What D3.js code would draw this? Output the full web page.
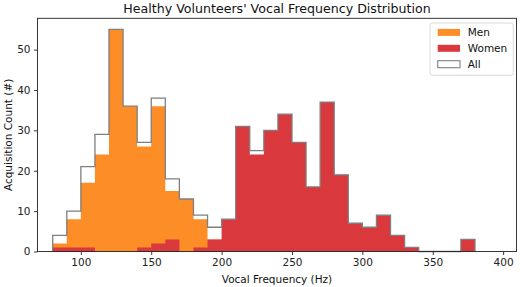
<!DOCTYPE html>
<html>
<head>
<meta charset="utf-8">
<script src="https://cdn.jsdelivr.net/npm/d3@7"></script>
<style>
  html, body { margin: 0; padding: 0; background: #fff; }
  svg { display: block; font-family: "DejaVu Sans", sans-serif; }
</style>
</head>
<body>
<svg id="chart" width="520" height="287"></svg>
<script>
// ---- data ----
const binStarts = [80, 90, 100, 110, 120, 130, 140, 150, 160, 170, 180, 190, 200, 210, 220, 230, 240, 250, 260, 270, 280, 290, 300, 310, 320, 330, 340, 350, 360, 370];
const binWidth = 10;
const allCounts =   [4, 10, 21, 29, 55, 36, 27, 38, 18, 13, 9, 6, 8, 31, 25, 30, 34, 27, 16, 37, 19, 7, 6, 9, 4, 1, 0, 0, 0, 3];
const menCounts =   [2, 8, 17, 24, 55, 36, 26, 36, 15, 13, 8, 3, 0, 0, 0, 0, 0, 0, 0, 0, 0, 0, 0, 0, 0, 0, 0, 0, 0, 0];
const womenCounts = [1, 1, 1, 0, 0, 0, 1, 2, 3, 0, 1, 3, 8, 31, 24, 30, 34, 27, 16, 37, 19, 7, 6, 9, 4, 1, 0, 0, 0, 3];
const xTicks = [100, 150, 200, 250, 300, 350, 400];
const yTicks = [0, 10, 20, 30, 40, 50];
const seriesNames = ["Men", "Women", "All"];
const colors = { Men: "#fd8d27", Women: "#d9383c", All: "#7f7f7f" };

// ---- layout ----
const svg = d3.select("#chart");
const plot = { left: 37.5, right: 516.5, top: 18.3, bottom: 251.5 };

const x = d3.scaleLinear().domain([69.2, 409.5]).range([plot.left, plot.right]);
const y = d3.scaleLinear().domain([0, 57.75]).range([plot.bottom, plot.top]);

function stepPoints(counts) {
  const pts = binStarts.map((s, i) => [s, counts[i]]);
  const last = binStarts[binStarts.length - 1] + binWidth;
  pts.push([last, counts[counts.length - 1]]);
  return pts;
}

const area = d3.area()
  .x(d => x(d[0]))
  .y0(y(0))
  .y1(d => y(d[1]))
  .curve(d3.curveStepAfter);

svg.append("path")
  .datum(stepPoints(menCounts))
  .attr("d", area)
  .attr("fill", colors.Men);

svg.append("path")
  .datum(stepPoints(womenCounts))
  .attr("d", area)
  .attr("fill", colors.Women);

const line = d3.line()
  .x(d => x(d[0]))
  .y(d => y(d[1]))
  .curve(d3.curveStepAfter);

const allPts = stepPoints(allCounts);
allPts.unshift([binStarts[0], 0]);
allPts.push([binStarts[binStarts.length - 1] + binWidth, 0]);
svg.append("path")
  .datum(allPts)
  .attr("d", line)
  .attr("fill", "none")
  .attr("stroke", colors.All)
  .attr("stroke-width", 1.3);

// ---- axes ----
const xAxis = d3.axisBottom(x).tickValues(xTicks).tickSize(3.5).tickPadding(3.5).tickFormat(d3.format("d"));
const gx = svg.append("g").attr("transform", `translate(0,${plot.bottom})`).call(xAxis);
gx.select(".domain").remove();
gx.selectAll("text").attr("font-size", 10.5).attr("fill", "#222").attr("font-family", "DejaVu Sans");
gx.selectAll("line").attr("stroke", "#222").attr("stroke-width", 0.9);

const yAxis = d3.axisLeft(y).tickValues(yTicks).tickSize(3.5).tickPadding(3.5).tickFormat(d3.format("d"));
const gy = svg.append("g").attr("transform", `translate(${plot.left},0)`).call(yAxis);
gy.select(".domain").remove();
gy.selectAll("text").attr("font-size", 10.5).attr("fill", "#222").attr("font-family", "DejaVu Sans");
gy.selectAll("line").attr("stroke", "#222").attr("stroke-width", 0.9);

// frame
svg.append("rect")
  .attr("x", plot.left).attr("y", plot.top)
  .attr("width", plot.right - plot.left).attr("height", plot.bottom - plot.top)
  .attr("fill", "none").attr("stroke", "#222").attr("stroke-width", 0.9);

// labels
svg.append("text")
  .attr("x", (plot.left + plot.right) / 2).attr("y", 12.5)
  .attr("text-anchor", "middle").attr("font-size", 12.6).attr("fill", "#111")
  .text("Healthy Volunteers' Vocal Frequency Distribution");

svg.append("text")
  .attr("x", (plot.left + plot.right) / 2).attr("y", 283)
  .attr("text-anchor", "middle").attr("font-size", 10.5).attr("fill", "#111")
  .text("Vocal Frequency (Hz)");

svg.append("text")
  .attr("transform", `translate(12,${(plot.top + plot.bottom) / 2}) rotate(-90)`)
  .attr("text-anchor", "middle").attr("font-size", 10.5).attr("fill", "#111")
  .text("Acquisition Count (#)");

// legend
const lg = svg.append("g");
lg.append("rect")
  .attr("x", 430).attr("y", 23).attr("width", 83.3).attr("height", 52.3)
  .attr("rx", 2.5).attr("fill", "#fff").attr("fill-opacity", 0.8)
  .attr("stroke", "#d6d6d6").attr("stroke-width", 0.9);
seriesNames.forEach((name, i) => {
  const cy = 32.3 + i * 15.9;
  const r = lg.append("rect")
    .attr("x", 437.7).attr("y", cy - 3.4).attr("width", 22.3).attr("height", 7);
  if (name === "All") {
    r.attr("fill", "#fff").attr("stroke", colors.All).attr("stroke-width", 1.1);
  } else {
    r.attr("fill", colors[name]);
  }
  lg.append("text")
    .attr("x", 467.7).attr("y", cy + 3.8)
    .attr("font-size", 10.5).attr("fill", "#111")
    .text(name);
});
</script>
</body>
</html>
